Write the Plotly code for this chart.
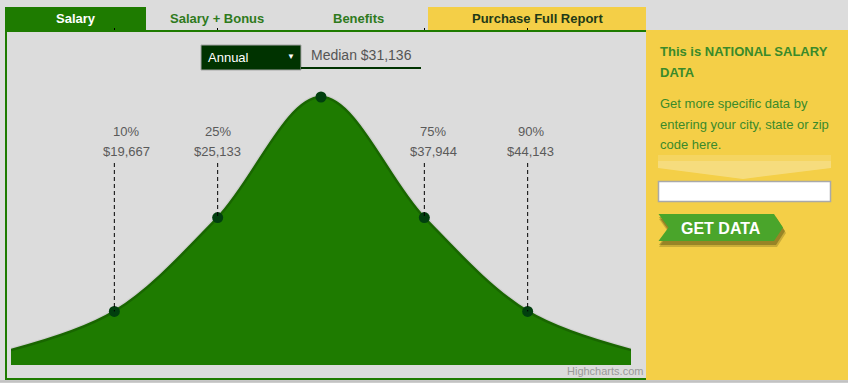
import plotly.graph_objects as go

# ---------------- data ----------------
percentiles = ["10%", "25%", "75%", "90%"]
salaries = [19667, 25133, 37944, 44143]
median_salary = 31136
# relative density of the bell curve at 7 evenly spaced positions
curve_x = [0, 1, 2, 3, 4, 5, 6]
curve_heights = [0.056, 0.20, 0.55, 1.0, 0.55, 0.20, 0.056]
marker_x = [1, 2, 3, 4, 5]
label_x = [1, 2, 4, 5]
tabs = ["Salary", "Salary + Bonus", "Benefits", "Purchase Full Report"]

# ---------------- layout helpers ----------------
W, H = 848, 383
FONT = "Arial, Liberation Sans, sans-serif"
GREEN = "#1e7b00"
YELLOW = "#f4cf47"
PLOT_L, PLOT_R, PLOT_T, PLOT_B = 11, 631, 31, 365
YMAX = 1.0 * (PLOT_B - PLOT_T) / 268.0


def PX(x):
    return x / W


def PY(y):
    return 1 - y / H


def data_y(py):
    return (PLOT_B - py) / (PLOT_B - PLOT_T) * YMAX


fig = go.Figure()

# soft shadow under outline
fig.add_trace(go.Scatter(x=curve_x, y=curve_heights, mode="lines",
                         line=dict(color="rgba(0,0,0,0.06)", width=5, shape="spline"),
                         hoverinfo="skip", showlegend=False))
# area
fig.add_trace(go.Scatter(x=curve_x, y=curve_heights, mode="lines", fill="tozeroy",
                         fillcolor=GREEN,
                         line=dict(color="#196600", width=2.5, shape="spline"),
                         hoverinfo="skip", showlegend=False))
# markers
fig.add_trace(go.Scatter(x=marker_x, y=[curve_heights[i] for i in marker_x], mode="markers",
                         marker=dict(color="#013f0e", size=11, line=dict(width=0)),
                         hoverinfo="skip", showlegend=False))

shapes = []


def rect(x0, y0, x1, y1, fill, line=None, lw=0, layer="below"):
    shapes.append(dict(type="rect", xref="paper", yref="paper",
                       x0=PX(x0), x1=PX(x1), y0=PY(y0), y1=PY(y1),
                       fillcolor=fill, line=dict(color=line or fill, width=lw), layer=layer))


def path(pts, fill, layer="above"):
    d = "M " + " L ".join(f"{PX(x):.5f},{PY(y):.5f}" for x, y in pts) + " Z"
    shapes.append(dict(type="path", xref="paper", yref="paper", path=d,
                       fillcolor=fill, line=dict(width=0), layer=layer))


# right panel
rect(646, 30, 848, 380, YELLOW)
# tabs
rect(5, 7, 146, 31, GREEN)
rect(428, 7, 646, 30, YELLOW)
rect(5, 30, 646, 32, GREEN)
# frame
rect(5, 30, 7, 380, GREEN)
rect(5, 378, 646, 380, GREEN)
rect(0, 380.5, 848, 383, "#cdcdcd")
shapes.append(dict(type="line", xref="paper", yref="paper", x0=0, x1=1, y0=PY(381), y1=PY(381),
                   line=dict(color="#b8b8b8", width=1), layer="below"))
# dropdown + median underline
rect(201, 45, 301, 70, "#003300", line="#a5a5a5", lw=1, layer="above")
rect(301, 67, 421, 69, "#003300", layer="above")
# glow chevron in panel (lighter toward its lower edge)
path([(658, 155), (831, 155), (831, 168), (743, 179), (658, 168)], "rgba(255,255,255,0.14)")
path([(658, 161), (831, 161), (831, 168), (743, 179), (658, 168)], "rgba(255,255,255,0.18)")
# input box
rect(658.5, 181.5, 830.5, 201.5, "#ffffff", line="#a9a9a9", lw=1.5, layer="above")
# button shadow + ribbon
path([(659, 219), (777, 219), (786, 233), (777, 247), (659, 247), (669, 233)], "rgba(50,50,0,0.22)")
path([(659, 217), (776, 217), (785, 231), (776, 245), (659, 245), (669, 231)], "rgba(40,40,0,0.30)")
path([(658.5, 214), (774, 214), (783, 227.5), (774, 241), (658.5, 241), (668.5, 227.5)], "#4aa52b")

# dashed percentile lines
for xv in label_x:
    shapes.append(dict(type="line", xref="x", yref="y", x0=xv, x1=xv,
                       y0=data_y(163), y1=curve_heights[xv],
                       line=dict(color="#000000", width=1, dash="4px,3px"), layer="above"))

annotations = []


def text(x, y, s, size=13, color="#555555", bold=False, anchor="center"):
    annotations.append(dict(xref="paper", yref="paper", x=PX(x), y=PY(y), text=f"<b>{s}</b>" if bold else s,
                            showarrow=False, xanchor=anchor, yanchor="middle",
                            font=dict(family=FONT, size=size, color=color)))


# tab labels
tab_centers = [76, 217, 358, 537]
tab_colors = ["#ffffff", "#2f7a1c", "#2f7a1c", "#1f3a17"]
for t, cx, c in zip(tabs, tab_centers, tab_colors):
    text(cx, 18.5, t, 13, c, bold=True)

# dropdown / median
text(206, 57.5, "Annual", 13, "#ffffff", anchor="left")
text(291, 56.5, "▼", 8, "#ffffff")
text(309, 55, f"Median ${median_salary:,}", 14, "#555555", anchor="left")

# percentile labels
label_shift = [12, 0, 9, 3]
for p, s, xv, sh in zip(percentiles, salaries, label_x, label_shift):
    annotations.append(dict(xref="x", yref="paper", x=xv, xshift=sh, y=PY(131.5), text=p,
                            showarrow=False, yanchor="middle",
                            font=dict(family=FONT, size=13, color="#5a5a5a")))
    annotations.append(dict(xref="x", yref="paper", x=xv, xshift=sh, y=PY(151.5), text=f"${s:,}",
                            showarrow=False, yanchor="middle",
                            font=dict(family=FONT, size=13, color="#5a5a5a")))

# right panel text
PANEL_GREEN = "#3a8a2a"
text(658, 51.5, "This is NATIONAL SALARY", 13, PANEL_GREEN, bold=True, anchor="left")
text(658, 72, "DATA", 13, PANEL_GREEN, bold=True, anchor="left")
text(658, 103.5, "Get more specific data by", 13, PANEL_GREEN, anchor="left")
text(658, 124, "entering your city, state or zip", 13, PANEL_GREEN, anchor="left")
text(658, 144.5, "code here.", 13, PANEL_GREEN, anchor="left")
text(720.5, 228.5, "GET DATA", 16, "#ffffff", bold=True)

# credits
text(645, 371, "Highcharts.com", 11, "#999999", anchor="right")

fig.update_layout(
    width=W, height=H,
    margin=dict(l=0, r=0, t=0, b=0),
    paper_bgcolor="#dcdcdc", plot_bgcolor="rgba(0,0,0,0)",
    showlegend=False,
    shapes=shapes, annotations=annotations,
    xaxis=dict(domain=[PX(PLOT_L), PX(PLOT_R)], range=[0, 6], side="top",
               showgrid=False, zeroline=False, showline=False,
               ticks="outside", ticklen=2, tickcolor="#000000", tickwidth=1,
               tickvals=label_x, showticklabels=False, fixedrange=True),
    yaxis=dict(domain=[PY(PLOT_B), PY(PLOT_T)], range=[0, YMAX],
               showgrid=False, zeroline=False, showline=False, showticklabels=False,
               ticks="", fixedrange=True),
)

fig.write_html("out.html", config={"displayModeBar": False},
               post_script="document.body.style.margin='0';document.body.style.overflow='hidden';")
